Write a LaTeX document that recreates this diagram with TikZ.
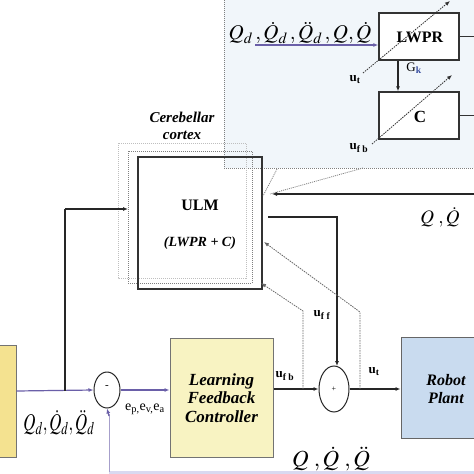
\documentclass[tikz,border=0pt]{standalone}
\usepackage{mathptmx}
\usepackage{fontspec}
\setmainfont{Liberation Serif}
\usetikzlibrary{arrows.meta,shapes.geometric}
\definecolor{purpleline}{HTML}{6A5FA8}
\definecolor{lavband}{HTML}{D9D9F0}
\definecolor{insetbg}{HTML}{F1F6FA}
\definecolor{yelbox}{HTML}{F4E290}
\definecolor{lfcfill}{HTML}{F8F3C2}
\definecolor{plantfill}{HTML}{C9DBEF}
\definecolor{gkblue}{HTML}{3A4FA0}
\begin{document}
\begin{tikzpicture}[x=1pt,y=-1pt,
  tip/.style={-{Latex[length=5pt,width=4pt]}},
  conn/.style={draw=black!85, line width=1.2pt, tip},
  thickconn/.style={draw=black!85, line width=1.7pt, tip},
  pconn/.style={draw=purpleline, line width=1.2pt, tip},
  dotline/.style={draw=black!50, line width=0.8pt, dash pattern=on 1pt off 1pt},
  dotarr/.style={draw=black!60, line width=0.8pt, dash pattern=on 1.5pt off 1pt, -{Latex[length=5pt,width=4pt]}},
  blk/.style={draw=black!80, line width=1.4pt, inner sep=0pt},
  sumnode/.style={draw=black!85, line width=1pt, ellipse, inner sep=0pt},
  bigq/.style={font=\fontsize{20}{22}\selectfont, inner sep=0pt},
  ulab/.style={font=\fontsize{13}{15}\selectfont\bfseries, inner sep=0pt},
  bi/.style={font=\fontsize{16}{18}\selectfont\bfseries\itshape, inner sep=0pt, align=center}
]
\useasboundingbox (0,0) rectangle (474,474);
\fill[white] (0,0) rectangle (474,474);

% inset background
\fill[insetbg] (224,-2) rectangle (476,168);
\draw[dotline] (224,-2) -- (224,168) -- (476,168);

% ULM shadow rectangles (cerebellar cortex)
\draw[draw=black!25, line width=0.8pt, dash pattern=on 1pt off 1pt] (118,143) rectangle (246,278);
\draw[dotline] (128,151) rectangle (252,283);

% blocks
\node[blk, fill=white, minimum width=80pt, minimum height=47pt] (lwpr) at (419,36.5) {};
\node[font=\fontsize{16}{18}\selectfont\bfseries] (lwprt) at (420,37) {LWPR};
\node[blk, fill=white, minimum width=80pt, minimum height=47pt] (cbox) at (419,115.5) {};
\node[font=\fontsize{17}{18}\selectfont\bfseries] (cboxt) at (420,117) {C};
\node[blk, minimum width=124pt, minimum height=132pt] (ulm) at (200,223) {};
\node[font=\fontsize{16}{18}\selectfont\bfseries] (ulmt) at (200,205) {ULM};
\node[font=\fontsize{14}{16}\selectfont\bfseries\itshape] (ulms) at (200,243) {(LWPR + C)};
\node[bi, font=\fontsize{15}{17}\selectfont\bfseries\itshape] (cc1) at (182,117) {Cerebellar};
\node[bi, font=\fontsize{15}{17}\selectfont\bfseries\itshape] (cc2) at (182,135) {cortex};

\node[draw=black!55, line width=0.8pt, fill=yelbox, minimum width=40pt, minimum height=112pt, inner sep=0pt] (ref) at (-4,401) {};
\node[draw=black!55, line width=1pt, fill=lfcfill, minimum width=103pt, minimum height=119pt, inner sep=0pt] (lfc) at (221.5,397.5) {};
\node[bi, font=\fontsize{17}{18.5}\selectfont\bfseries\itshape] (lfct) at (221.5,398) {Learning\\Feedback\\Controller};
\node[draw=black!60, line width=1pt, fill=plantfill, minimum width=90pt, minimum height=101pt, inner sep=0pt] (plant) at (446,387.5) {};
\node[bi, font=\fontsize{16}{18}\selectfont\bfseries\itshape] (plantt) at (446,389) {Robot\\Plant};

\node[sumnode, minimum width=26pt, minimum height=36pt] (s1) at (107,390) {};
\node[font=\fontsize{11}{12}\selectfont] (s1t) at (107,387) {-};
\node[sumnode, minimum width=30pt, minimum height=46pt] (s2) at (334,389) {};
\node[font=\fontsize{8}{9}\selectfont] (s2t) at (334,389) {+};

% inset internals
\draw[conn] (lwpr.south -| 398,0) -- (cbox.north -| 398,0);
\node[font=\fontsize{13}{15}\selectfont, inner sep=0pt] (gk) at (414,68) {G\textsubscript{\bfseries\color{gkblue}k}};
\draw[draw=black!80, line width=1.1pt] (lwpr.east) -- (476,36.5);
\draw[draw=black!80, line width=1.1pt] (cbox.east) -- (476,115.5);
\coordinate (ut1) at (363,73);
\coordinate (ut2) at (450,1);
\draw[dotarr, draw=black!80] (ut1) -- (ut2);
\coordinate (uf1) at (372,144);
\coordinate (uf2) at (452,75);
\draw[dotarr, draw=black!80] (uf1) -- (uf2);
\node[ulab] (utl) at (355,80) {u\textsubscript{t}};
\node[ulab] (ufbl) at (359,148) {u\textsubscript{f b}};
\node[bigq, font=\fontsize{21}{22}\selectfont] (qin) at (300,33) {$Q_d\,,\dot{Q}_d\,,\ddot{Q}_d\,,Q,\dot{Q}$};
\coordinate (qa) at (255,45);
\draw[pconn] (qa) -- (lwpr.west |- qa);

% callout lines
\coordinate (cl1) at (363,168);
\coordinate (cl2) at (277,169);
\coordinate (clt1) at (270,194);
\coordinate (clt2) at (263,196);
\draw[dotline] (cl1) -- (clt1);
\draw[dotline] (cl2) -- (clt2);

% Q,Qdot into ULM
\coordinate (qr) at (476,194);
\draw[thickconn] (qr) -- (272,194);
\node[bigq, font=\fontsize{19}{20}\selectfont] (qq) at (440,217) {$Q\;,\dot{Q}$};

% reference input
\coordinate (br) at (65,391);
\draw[pconn] (ref.east |- 0,391) -- (s1.west);
\draw[draw=black!85, line width=1.2pt] (br) -- (65,209);
\draw[conn] (65,209) -- (128,209);
\node[bigq, font=\fontsize{24}{26}\selectfont] (qd) at (59,423) {\scalebox{0.7}[1]{$Q_d,\dot{Q}_d,\ddot{Q}_d$}};

\draw[pconn] (s1.east) -- (lfc.west |- s1.east);
\node[font=\fontsize{14}{16}\selectfont, inner sep=0pt] (err) at (145,409) {e\textsubscript{p,}e\textsubscript{v,}e\textsubscript{a}};

% feedback line at bottom
\draw[draw=lavband, line width=3pt] (476,472) -- (109,472);
\draw[draw=purpleline!60, line width=1pt] (109,472) -- (109,414);
\draw[pconn] (109,416) -- (s1.south);

% controller to sum2 and plant
\draw[conn] (lfc.east |- 0,389) -- (s2.west);
\node[ulab] (ufb) at (285,376) {u\textsubscript{f b}};
\draw[conn] (s2.east) -- (plant.west |- s2.east);
\node[ulab] (ut) at (374,372) {u\textsubscript{t}};

% u_ff from ULM
\coordinate (uff0) at (268,217);
\draw[conn] (uff0) -- (337,217) -- (337,366);
\node[ulab] (uffl) at (322,315) {u\textsubscript{f f}};

% dotted feedbacks into ULM
\coordinate (d1a) at (360,389);
\coordinate (d1b) at (360,312);
\coordinate (d1c) at (264,242);
\draw[dotarr] (d1a) -- (d1b) -- (d1c);
\coordinate (d2a) at (303,389);
\coordinate (d2b) at (303,311);
\coordinate (d2c) at (261,283);
\draw[dotarr] (d2a) -- (d2b) -- (d2c);

\node[bigq, font=\fontsize{23}{24}\selectfont] (qout) at (331,459) {$Q\;,\dot{Q}\;,\ddot{Q}$};
\end{tikzpicture}
\end{document}
